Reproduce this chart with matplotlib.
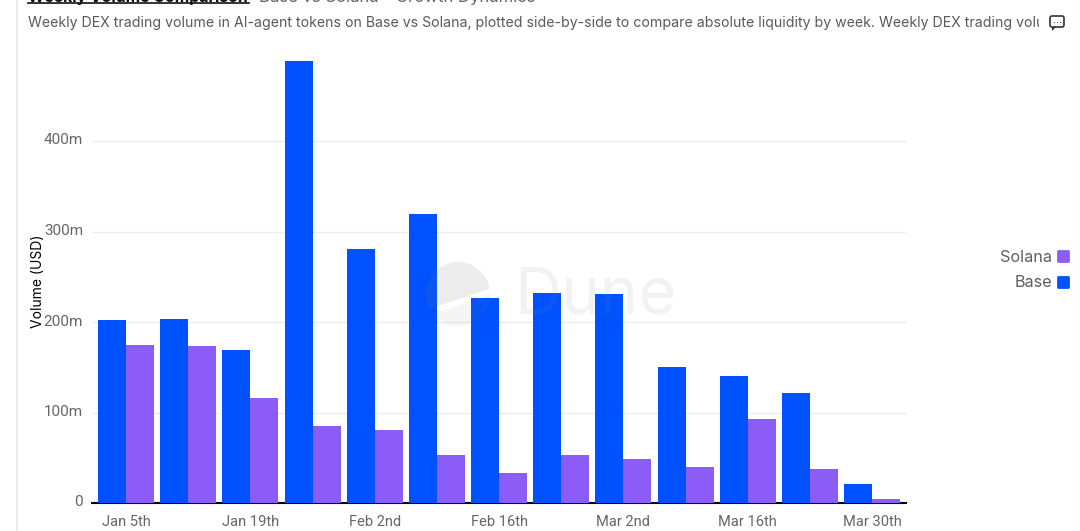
#!/usr/bin/env python3
import matplotlib
matplotlib.use('Agg')
import matplotlib.pyplot as plt
from matplotlib.lines import Line2D
from matplotlib.markers import MarkerStyle
from matplotlib.patches import Circle, Polygon, FancyBboxPatch
from matplotlib.ticker import FuncFormatter
from matplotlib.transforms import Bbox, IdentityTransform, ScaledTranslation

weeks = ['Jan 5th', 'Jan 12th', 'Jan 19th', 'Jan 26th', 'Feb 2nd', 'Feb 9th', 'Feb 16th',
         'Feb 23rd', 'Mar 2nd', 'Mar 9th', 'Mar 16th', 'Mar 23rd', 'Mar 30th']
# millions USD
base = [202, 203, 169, 488, 281, 319, 226, 232, 231, 150, 140, 121, 21]
solana = [174.5, 173.5, 116, 85, 80.5, 53, 33, 53, 49, 40, 93, 37.5, 4.5]
y_ticks = [0, 100, 200, 300, 400]

BLUE = '#0052ff'
PURPLE = '#8b5cf6'
W, H = 1080, 531
PX = IdentityTransform()

fig = plt.figure(figsize=(W/100, H/100), dpi=100)
ax = fig.add_axes([92/W, 1-503/H, (906-92)/W, (503-50)/H])

x = list(range(len(weeks)))
bw = 28/62.17
ax.bar([i-bw/2 for i in x], base, width=bw, color=BLUE, zorder=3)
ax.bar([i+bw/2 for i in x], solana, width=bw, color=PURPLE, zorder=3)

ax.set_xlim((92-126)/62.17, (906-126)/62.17)
ax.set_ylim(0, 453/0.905)
ax.set_yticks(y_ticks)
ax.yaxis.set_major_formatter(FuncFormatter(lambda v, p: '0' if v == 0 else '%dm' % v))
ax.set_xticks(x[::2], weeks[::2])
ax.grid(axis='y', color='#ececec', linewidth=1, zorder=0)
ax.tick_params(axis='both', length=0, labelcolor='#666666', labelfontfamily='Roboto')
ax.tick_params(axis='x', pad=9, labelsize=10.5)
ax.tick_params(axis='y', pad=6.5, labelsize=11)
# y labels sit 2px above their gridlines
for lab in ax.get_yticklabels():
    lab.set_transform(lab.get_transform() + ScaledTranslation(0, 2/100, fig.dpi_scale_trans))
for s in ['top', 'left', 'right']:
    ax.spines[s].set_visible(False)
ax.spines['bottom'].set_color('black')
ax.spines['bottom'].set_linewidth(1.5)
ax.spines['bottom'].set_zorder(2)

fig.text(37.5/W, 1-281/H, 'Volume (USD)', rotation=90, ha='center', va='center',
         fontsize=10, family='Inter', color='black')

# legend on the right, marker after the label
mk = MarkerStyle('s', joinstyle='round')
handles = [Line2D([], [], linestyle='none', marker=mk, markersize=6.5, markeredgewidth=2, color=PURPLE),
           Line2D([], [], linestyle='none', marker=mk, markersize=6.5, markeredgewidth=2, color=BLUE)]
fig.legend(handles, ['Solana', 'Base'], loc='center right', bbox_to_anchor=(1077/W, 1-270/H),
           markerfirst=False, frameon=False, handlelength=0.75, handletextpad=0.3, labelspacing=0.65,
           borderpad=0, prop={'family': 'Inter', 'size': 11.7}, labelcolor='#5f5f5f')

# header text, title is cut off by the top edge
fig.text(28/W, 1-2/H, 'Weekly Volume Comparison', fontsize=11.4, family='Inter',
         fontweight='bold', color='#111111', va='baseline')
fig.add_artist(Line2D([28/W, 249/W], [1-3/H, 1-3/H], color='#111111', linewidth=1.2))
fig.text(259/W, 1-2/H, 'Base vs Solana - Growth Dynamics', fontsize=12, family='Inter',
         color='#666666', va='baseline')
sub = fig.text(28/W, 1-23/H,
               'Weekly DEX trading volume in AI-agent tokens on Base vs Solana, plotted side-by-side '
               'to compare absolute liquidity by week. Weekly DEX trading volume in AI-agent',
               fontsize=10.15, family='Inter', color='#5a5a5a', va='center')
sub.set_clip_box(Bbox([[0, 0], [1039, H]]))
sub.set_clip_on(True)

# comment icon
fig.add_artist(FancyBboxPatch((1050, H-27), 14, 11, boxstyle='round,pad=0,rounding_size=2',
                              transform=PX, fill=False, edgecolor='#333333', linewidth=1.2))
fig.add_artist(Polygon([(1052, H-27), (1052, H-31), (1056, H-27)], closed=True, transform=PX,
                       facecolor='#333333', edgecolor='none'))
fig.text(1057/W, 1-20/H, '...', ha='center', va='center', fontsize=7, color='#333333')

# card borders
fig.add_artist(Line2D([17/W, 17/W], [0, 1], color='#e6e6e6', linewidth=1.2))
fig.add_artist(Line2D([1079.5/W, 1079.5/W], [0, 1], color='#ececec', linewidth=1))

# Dune watermark: circle split by a slanted gap, lower part lighter
upper = Polygon([(420, H-312), (495, H-287), (495, H-250), (420, H-250)], closed=True, transform=PX)
lower = Polygon([(420, H-318), (495, H-293), (495, H-340), (420, H-340)], closed=True, transform=PX)
for clip, alpha in [(upper, 0.13), (lower, 0.07)]:
    c = Circle((458, H-294), 32, transform=PX, facecolor='#777777', alpha=alpha,
               edgecolor='none', zorder=5)
    fig.add_artist(c)
    c.set_clip_path(clip)
fig.text(595/W, 1-296/H, 'Dune', ha='center', va='center', fontsize=47, family='Inter',
         color='#888888', alpha=0.1, zorder=5)

fig.savefig('out.png', dpi=100)
